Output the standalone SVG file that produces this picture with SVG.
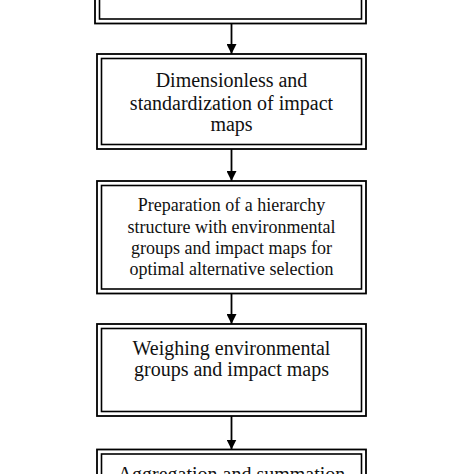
<svg xmlns="http://www.w3.org/2000/svg" width="474" height="474" viewBox="0 0 474 474">
  <defs>
    <style>
      .o{fill:#fff;stroke:#000;stroke-width:1.8}
      .i{fill:none;stroke:#000;stroke-width:1.6}
      .t{font-family:"Liberation Serif","Times New Roman",serif;font-size:20px;fill:#111;text-anchor:middle}
      .s{font-size:18px}
      .c{stroke:#000;stroke-width:1.8;fill:none}
    </style>
    <marker id="ah" markerWidth="10" markerHeight="10" refX="10" refY="5" orient="auto" markerUnits="userSpaceOnUse">
      <path d="M0,0 L10,5 L0,10 Z" fill="#000"/>
    </marker>
  </defs>
  <rect width="474" height="474" fill="#fff"/>
  <g id="connectors">
    <line class="c" x1="231.5" y1="24" x2="231.5" y2="54" marker-end="url(#ah)"/>
    <line class="c" x1="231.5" y1="149" x2="231.5" y2="181" marker-end="url(#ah)"/>
    <line class="c" x1="231.5" y1="293" x2="231.5" y2="324" marker-end="url(#ah)"/>
    <line class="c" x1="231.5" y1="416" x2="231.5" y2="449.5" marker-end="url(#ah)"/>
  </g>
  <g id="node1">
    <rect class="o" x="95" y="-40" width="271" height="63.5"/>
    <rect class="i" x="99.5" y="-40" width="262" height="59"/>
  </g>
  <g id="node2">
    <rect class="o" x="97" y="54" width="269" height="95"/>
    <rect class="i" x="101.5" y="58.5" width="260" height="86"/>
    <text class="t" x="231.5" y="87">Dimensionless and</text>
    <text class="t" x="231.5" y="109.5">standardization of impact</text>
    <text class="t" x="231.5" y="131">maps</text>
  </g>
  <g id="node3">
    <rect class="o" x="97" y="181" width="269" height="112.5"/>
    <rect class="i" x="101.5" y="185.5" width="260" height="103.5"/>
    <text class="t s" x="231.5" y="211">Preparation of a hierarchy</text>
    <text class="t s" x="231.5" y="232.5">structure with environmental</text>
    <text class="t s" x="231.5" y="253.5">groups and impact maps for</text>
    <text class="t s" x="231.5" y="274.5">optimal alternative selection</text>
  </g>
  <g id="node4">
    <rect class="o" x="97" y="324" width="269" height="92"/>
    <rect class="i" x="101.5" y="328.5" width="260" height="83"/>
    <text class="t" x="231.5" y="355">Weighing environmental</text>
    <text class="t" x="231.5" y="376">groups and impact maps</text>
  </g>
  <g id="node5">
    <rect class="o" x="97" y="449.5" width="269" height="60"/>
    <rect class="i" x="101.5" y="454" width="260" height="60"/>
    <text class="t" x="231.5" y="481">Aggregation and summation</text>
  </g>
</svg>
